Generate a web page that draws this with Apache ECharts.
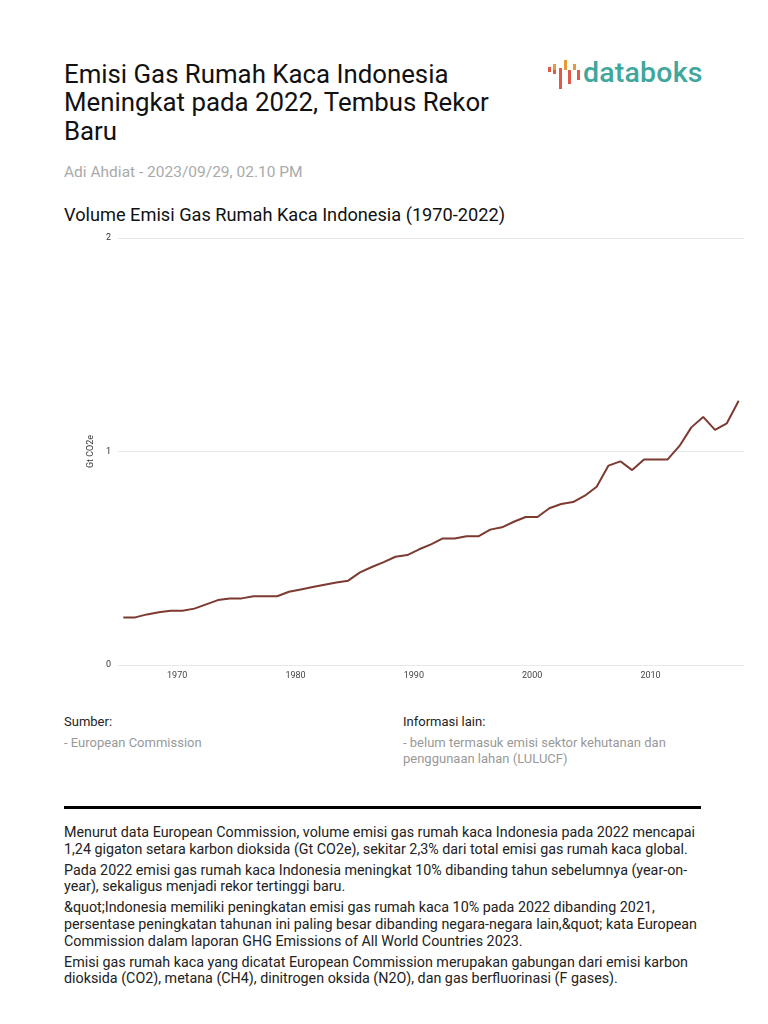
<!DOCTYPE html>
<html>
<head>
<meta charset="utf-8">
<script src="https://cdn.jsdelivr.net/npm/echarts@6/dist/echarts.min.js"></script>
<style>
  body { margin: 0; width: 768px; height: 1024px; background: #fff; font-family: Roboto, "Noto Sans", sans-serif; position: relative; overflow: hidden; }
  .abs { position: absolute; }
  .title { left: 64px; top: 60px; font-size: 25.8px; line-height: 28.4px; color: #111; white-space: nowrap; }
  .author { left: 64px; top: 163px; font-size: 15.5px; color: #aaa; }
  .ctitle { left: 64px; top: 204px; font-size: 18.2px; color: #111; }
  .logo { left: 583px; top: 56px; font-size: 28.5px; color: #3fa79d; font-weight: 500; letter-spacing: 0.2px; }
  .bar { position: absolute; width: 3px; }
  .lbl { font-size: 13px; color: #222; }
  .src { font-size: 13px; color: #999; line-height: 15.5px; }
  .rule { left: 64px; top: 806px; width: 637px; height: 3px; background: #000; }
  .body { left: 64px; top: 824px; width: 650px; font-size: 14.3px; line-height: 16.8px; color: #222; }
  .body p { margin: 0 0 4px 0; }
  #chart { left: 0; top: 230px; width: 768px; height: 470px; }
</style>
</head>
<body>
<div class="abs title">Emisi Gas Rumah Kaca Indonesia<br>Meningkat pada 2022, Tembus Rekor<br>Baru</div>
<div class="abs" style="left:548px;top:58px;width:34px;height:34px;">
  <div class="bar" style="left:0;top:9px;height:5px;background:#e05a47"></div>
  <div class="bar" style="left:5px;top:6px;height:6px;background:#e8993a"></div>
  <div class="bar" style="left:5px;top:12px;height:4px;background:#e05a47"></div>
  <div class="bar" style="left:11px;top:10px;height:21px;background:#e05a47"></div>
  <div class="bar" style="left:16px;top:2px;height:10px;background:#e8993a"></div>
  <div class="bar" style="left:20px;top:12px;height:14px;background:#e05a47"></div>
  <div class="bar" style="left:25px;top:6px;height:6px;background:#e8993a"></div>
  <div class="bar" style="left:29px;top:12px;height:10px;background:#e05a47"></div>
</div>
<div class="abs logo">databoks</div>
<div class="abs author">Adi Ahdiat - 2023/09/29, 02.10 PM</div>
<div class="abs ctitle">Volume Emisi Gas Rumah Kaca Indonesia (1970-2022)</div>
<div id="chart" class="abs"></div>
<div class="abs lbl" style="left:64px;top:714px;">Sumber:</div>
<div class="abs src" style="left:64px;top:735px;">- European Commission</div>
<div class="abs lbl" style="left:403px;top:714px;">Informasi lain:</div>
<div class="abs src" style="left:403px;top:735px;width:300px;">- belum termasuk emisi sektor kehutanan dan penggunaan lahan (LULUCF)</div>
<div class="abs rule"></div>
<div class="abs body">
  <p>Menurut data European Commission, volume emisi gas rumah kaca Indonesia pada 2022 mencapai 1,24 gigaton setara karbon dioksida (Gt CO2e), sekitar 2,3% dari total emisi gas rumah kaca global.</p>
  <p>Pada 2022 emisi gas rumah kaca Indonesia meningkat 10% dibanding tahun sebelumnya (year-on-year), sekaligus menjadi rekor tertinggi baru.</p>
  <p>&amp;quot;Indonesia memiliki peningkatan emisi gas rumah kaca 10% pada 2022 dibanding 2021, persentase peningkatan tahunan ini paling besar dibanding negara-negara lain,&amp;quot; kata European Commission dalam laporan GHG Emissions of All World Countries 2023.</p>
  <p>Emisi gas rumah kaca yang dicatat European Commission merupakan gabungan dari emisi karbon dioksida (CO2), metana (CH4), dinitrogen oksida (N2O), dan gas berfluorinasi (F gases).</p>
</div>
<script>
// tahun 1970-2022
const years = [
  1970, 1971, 1972, 1973, 1974, 1975, 1976, 1977, 1978, 1979,
  1980, 1981, 1982, 1983, 1984, 1985, 1986, 1987, 1988, 1989,
  1990, 1991, 1992, 1993, 1994, 1995, 1996, 1997, 1998, 1999,
  2000, 2001, 2002, 2003, 2004, 2005, 2006, 2007, 2008, 2009,
  2010, 2011, 2012, 2013, 2014, 2015, 2016, 2017, 2018, 2019,
  2020, 2021, 2022
]
// emisi, Gt CO2e
const emissions = [
  0.223, 0.223, 0.237, 0.247, 0.254, 0.254, 0.264, 0.284, 0.304, 0.312,
  0.312, 0.322, 0.322, 0.322, 0.343, 0.354, 0.365, 0.376, 0.386, 0.395,
  0.434, 0.459, 0.482, 0.507, 0.515, 0.542, 0.565, 0.593, 0.593, 0.603,
  0.603, 0.634, 0.645, 0.671, 0.693, 0.693, 0.734, 0.754, 0.763, 0.793,
  0.835, 0.934, 0.954, 0.913, 0.963, 0.963, 0.963, 1.026, 1.113, 1.162,
  1.101, 1.132, 1.238
]
// label sumbu x seperti di gambar
const xTicks = [1970, 1980, 1990, 2000, 2010]
const yTicks = [0, 1, 2]

const chart = echarts.init(document.getElementById('chart'))
chart.setOption({
  animation: false,
  textStyle: { fontFamily: 'Roboto, sans-serif' },
  grid: { left: 118, right: 24, top: 8, bottom: 35 },
  xAxis: [{
    type: 'value',
    min: 1969.55,
    max: 2022.45,
    show: false
  }, {
    type: 'value',
    min: 1965,
    max: 2017.9,
    position: 'bottom',
    axisLine: { show: false },
    axisTick: { show: false },
    splitLine: { show: false },
    axisLabel: {
      customValues: xTicks,
      formatter: v => String(v),
      fontSize: 9,
      color: '#444',
      margin: 6
    }
  }],
  yAxis: {
    type: 'value',
    min: yTicks[0],
    max: yTicks[yTicks.length - 1],
    interval: 1,
    name: 'Gt CO2e',
    nameLocation: 'middle',
    nameRotate: 90,
    nameGap: 21,
    nameTextStyle: { fontSize: 9, color: '#333' },
    axisLine: { show: false },
    axisTick: { show: false },
    axisLabel: { fontSize: 9, color: '#333', margin: 7 },
    splitLine: { lineStyle: { color: '#e8e8e8' } }
  },
  series: [{
    type: 'line',
    xAxisIndex: 0,
    data: years.map((y, i) => [y, emissions[i]]),
    showSymbol: false,
    lineStyle: { width: 2, color: '#7c3a31' }
  }]
})
</script>
</body>
</html>
